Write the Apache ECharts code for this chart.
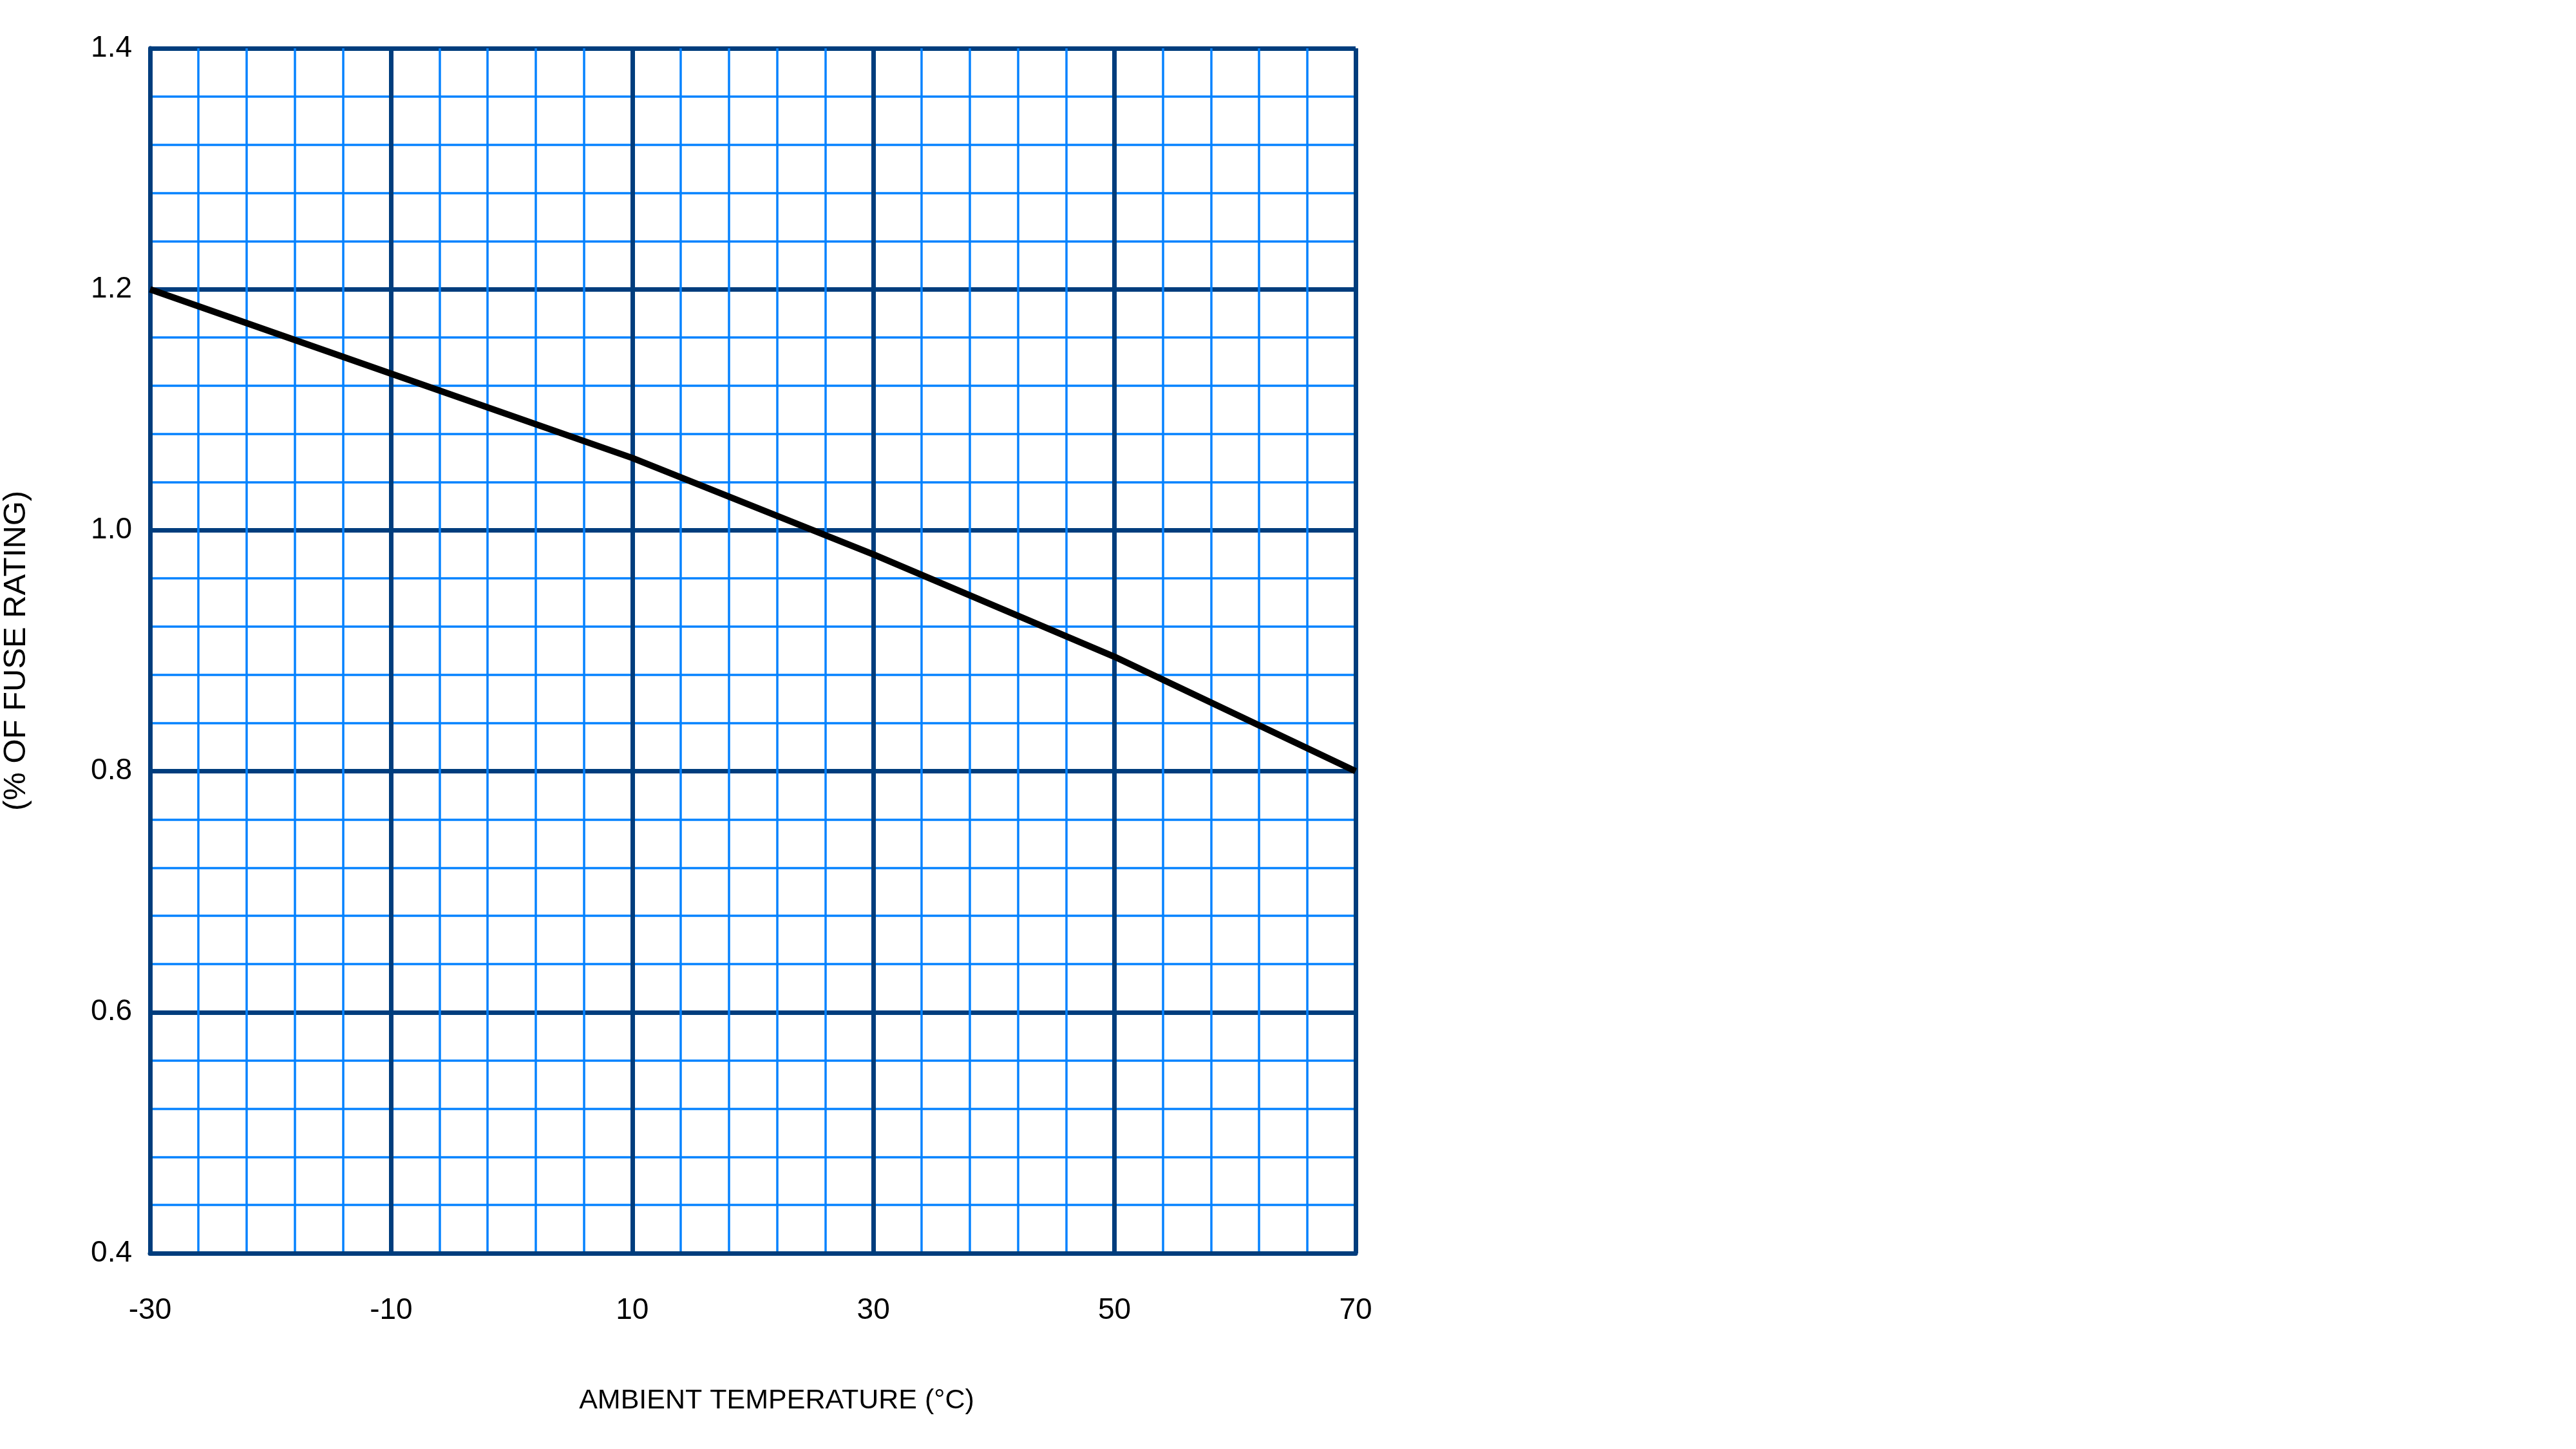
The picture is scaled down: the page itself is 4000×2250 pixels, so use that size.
<!DOCTYPE html>
<html>
<head>
<meta charset="utf-8">
<script src="https://cdn.jsdelivr.net/npm/echarts@6/dist/echarts.min.js"></script>
<style>
html,body{margin:0;padding:0;background:#fff;}
#chart{width:4000px;height:2250px;}
</style>
</head>
<body>
<div id="chart"></div>
<script>
// Data
const temperatures = [-30, -10, 10, 30, 50, 70];
const ratingFactor = [1.2, 1.13, 1.06, 0.98, 0.895, 0.8];
const xTickLabels = ['-30', '-10', '10', '30', '50', '70'];
const yTickLabels = ['0.4', '0.6', '0.8', '1.0', '1.2', '1.4'];
const xTitle = 'AMBIENT TEMPERATURE (°C)';
const yTitle = '(% OF FUSE RATING)';

const MAJOR = '#003d7d';
const MINOR = '#0582ff';
const FONT = 'Liberation Sans, Arial, sans-serif';

// x axis scale starts at the lowest temperature (offset so ticks fall on -30, -10, ... 70)
const X0 = temperatures[0];
const chart = echarts.init(document.getElementById('chart'), null, {renderer: 'canvas'});
const seriesData = temperatures.map((t, i) => [t - X0, ratingFactor[i]]);

chart.setOption({
  backgroundColor: '#ffffff',
  animation: false,
  grid: {left: 229, top: 75, width: 1876, height: 1871, containLabel: false},
  xAxis: {
    type: 'value', min: 0, max: 100, interval: 20,
    name: xTitle, nameLocation: 'middle', nameGap: 208,
    nameTextStyle: {fontFamily: FONT, fontSize: 43, color: '#000', padding: [0, 0, 0, 74]},
    axisLine: {show: true, lineStyle: {color: MAJOR, width: 7}},
    axisTick: {show: false},
    axisLabel: {fontFamily: FONT, fontSize: 46, color: '#000', margin: 66,
      showMinLabel: true, showMaxLabel: true,
      formatter: v => xTickLabels[Math.round(v / 20)]},
    splitLine: {show: true, lineStyle: {color: MAJOR, width: 7}},
    minorTick: {show: false, splitNumber: 5},
    minorSplitLine: {show: true, lineStyle: {color: MINOR, width: 3.5}},
    z: 2
  },
  yAxis: {
    type: 'value', min: 0.4, max: 1.4, interval: 0.2,
    name: yTitle, nameLocation: 'middle', nameGap: 183,
    nameTextStyle: {fontFamily: FONT, fontSize: 49, color: '#000'},
    axisLine: {show: true, lineStyle: {color: MAJOR, width: 7}},
    axisTick: {show: false},
    axisLabel: {fontFamily: FONT, fontSize: 46, color: '#000', margin: 28,
      formatter: v => yTickLabels[Math.round((v - 0.4) / 0.2)]},
    splitLine: {show: true, lineStyle: {color: MAJOR, width: 7}},
    minorTick: {show: false, splitNumber: 5},
    minorSplitLine: {show: true, lineStyle: {color: MINOR, width: 3.5}},
    z: 2
  },
  series: [{
    type: 'line',
    data: seriesData,
    showSymbol: false,
    symbol: 'none',
    lineStyle: {color: '#000000', width: 10},
    z: 5
  }]
});
</script>
</body>
</html>
